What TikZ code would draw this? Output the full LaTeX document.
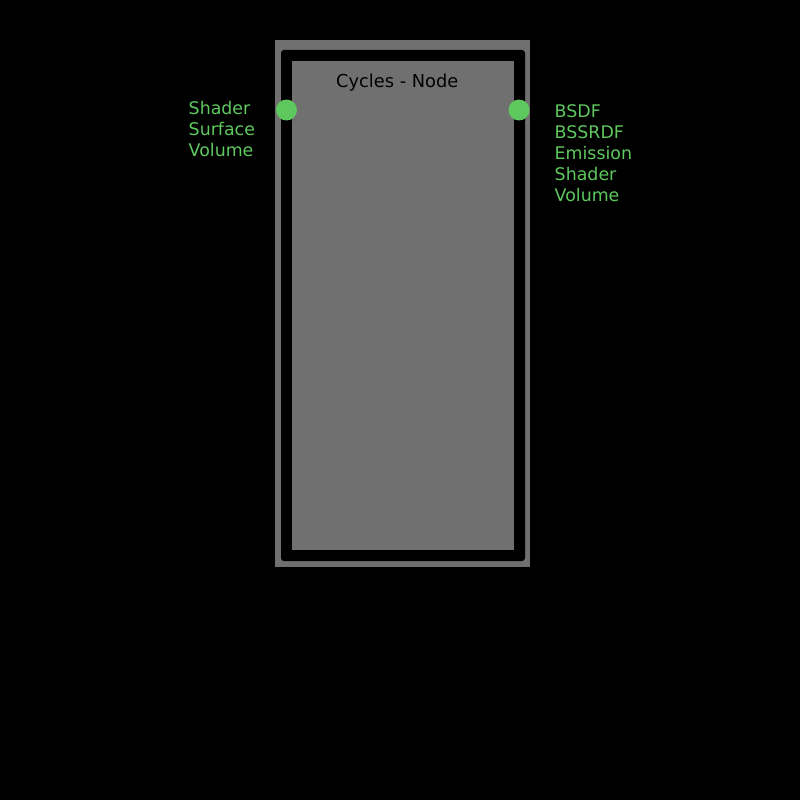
\documentclass[tikz,border=0pt]{standalone}
\usepackage{fontspec}
\setmainfont{DejaVu Sans}
\definecolor{nodegray}{RGB}{112,112,112}
\definecolor{sockgreen}{RGB}{94,200,94}
\tikzset{
  lbl/.style={font=\fontsize{17.4}{21}\selectfont, text=sockgreen, inner sep=0pt, anchor=base west},
  ttl/.style={font=\fontsize{17.8}{21}\selectfont, text=black, inner sep=0pt, anchor=base west},
  sock/.style={circle, fill=sockgreen, minimum size=21pt, inner sep=0pt},
}
\begin{document}
\begin{tikzpicture}[x=1pt,y=-1pt]
\fill[black] (0,0) rectangle (800,800);
\useasboundingbox (0,0) rectangle (800,800);
% outer gray frame
\fill[nodegray] (275,40) rectangle (530,567);
% black rounded border
\fill[black, rounded corners=3pt] (281,50) rectangle (525,561);
% inner gray body
\fill[nodegray] (292,61) rectangle (514,550);
\node[ttl] (title) at (336,88) {Cycles - Node};
\node[sock] (sin) at (286.5,110) {};
\node[sock] (sout) at (519,110) {};
\foreach \t [count=\i] in {Shader,Surface,Volume}
  \node[lbl] (in\i) at (188.5,{114+21*(\i-1)}) {\t};
\foreach \t [count=\i] in {BSDF,BSSRDF,Emission,Shader,Volume}
  \node[lbl] (out\i) at (554.5,{117+21*(\i-1)}) {\t};
\end{tikzpicture}
\end{document}
